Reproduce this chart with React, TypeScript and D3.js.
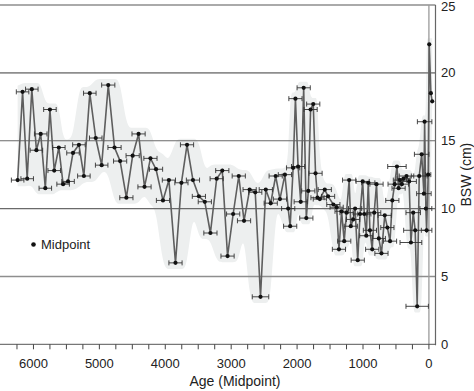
import React from 'react';
import * as d3 from 'd3';

// midpoint ages (yr), oldest first
const ages = [
  6240, 6165, 6095, 6025, 5955, 5890, 5820, 5750, 5685, 5615,
  5550, 5475, 5400, 5310, 5235, 5145, 5055, 4965, 4865, 4770,
  4685, 4590, 4495, 4405, 4315, 4225, 4140, 4035, 3945, 3845,
  3755, 3670, 3580, 3490, 3400, 3315, 3220, 3135, 3055, 2970,
  2885, 2805, 2720, 2635, 2555, 2475, 2400, 2325, 2260, 2185,
  2135, 2105, 2060, 2025, 1985, 1945, 1900, 1860, 1830, 1795,
  1755, 1720, 1690, 1655, 1580, 1530, 1450, 1400, 1365, 1325,
  1285, 1250, 1210, 1185, 1150, 1120, 1080, 1045, 1005, 980,
  950, 920, 895, 860, 830, 795, 760, 720, 670, 630,
  590, 555, 520, 485, 460, 440, 410, 385, 340, 300,
  273, 238, 208, 178, 147, 110, 76, 65, 46, 35,
  11, -5, -30, -50,
];

// BSW (cm)
const bsw = [
  12.1, 18.6, 12.2, 18.8, 14.3, 15.5, 11.5, 17.3, 12.8, 14.5,
  11.8, 12.0, 14.1, 14.7, 12.4, 18.5, 15.2, 13.2, 19.1, 14.5,
  13.5, 10.8, 13.9, 15.5, 11.6, 13.7, 12.9, 10.6, 12.1, 6.0,
  11.9, 14.7, 12.1, 10.9, 10.5, 8.2, 12.2, 12.8, 6.5, 9.6,
  12.4, 9.1, 11.4, 11.2, 3.5, 11.4, 10.4, 12.4, 10.7, 12.5,
  10.0, 8.7, 13.0, 18.1, 13.1, 10.5, 18.9, 9.3, 11.3, 17.3,
  17.7, 12.6, 10.8, 10.7, 11.4, 10.9, 10.3, 10.1, 7.0, 9.8,
  7.6, 9.7, 12.1, 8.7, 9.2, 10.0, 6.2, 9.6, 12.0, 9.6,
  8.0, 11.9, 8.4, 7.0, 9.7, 11.8, 7.8, 6.7, 9.5, 8.6,
  7.6, 10.6, 11.8, 13.1, 11.5, 12.1, 11.8, 12.2, 12.4, 12.0,
  7.5, 9.7, 8.4, 2.8, 12.4, 14.0, 11.1, 16.4, 10.0, 8.4,
  12.5, 22.1, 18.5, 17.9,
];

// half-width of the age error bars (yr)
const ageErr = [
  95, 95, 95, 95, 95, 95, 95, 95, 95, 95,
  95, 95, 95, 95, 95, 95, 95, 95, 100, 100,
  100, 100, 100, 100, 100, 100, 100, 100, 100, 100,
  100, 100, 100, 100, 100, 100, 100, 100, 100, 100,
  100, 100, 100, 100, 125, 100, 100, 100, 100, 100,
  100, 100, 100, 100, 100, 100, 100, 100, 100, 100,
  100, 100, 100, 100, 100, 100, 100, 100, 100, 100,
  100, 100, 100, 100, 100, 100, 100, 100, 100, 100,
  100, 100, 100, 100, 100, 100, 100, 100, 100, 100,
  100, 100, 100, 140, 100, 100, 100, 100, 110, 110,
  165, 110, 175, 170, 120, 110, 110, 110, 90, 80,
  40, 0, 0, 0,
];

const xTicks = [6000, 5000, 4000, 3000, 2000, 1000, 0];
const xMinorTicks = d3.range(6250, -1, -250);
const yTicks = [0, 5, 10, 15, 20, 25];

const FONT = '"Liberation Sans", Arial, sans-serif';

const App = () => {
  const width = 474;
  const height = 391;
  const x = d3.scaleLinear().domain([6500, -100]).range([0.5, 435.5]);
  const y = d3.scaleLinear().domain([0, 25]).range([344.3, 5]);
  const right = x(-100);
  const bottom = y(0);

  const pts = ages.map((a, i) => ({ a, v: bsw[i], e: ageErr[i] }));

  // shaded envelope around the series (local min / max, smoothed)
  const band = pts.map((p, i) => {
    const win = pts.slice(Math.max(0, i - 2), i + 3).map(d => d.v);
    return { a: p.a, lo: d3.min(win) - 0.45, hi: Math.min(25, d3.max(win) + 0.45) };
  });
  const bandPath = d3.area()
    .x(d => x(d.a))
    .y0(d => y(d.lo))
    .y1(d => y(d.hi))
    .curve(d3.curveBasis)(band);

  const linePath = d3.line()
    .x(d => x(d.a))
    .y(d => y(d.v))(pts);

  return (
    <svg
      width={width}
      height={height}
      style={{ position: 'absolute', left: 0, top: 0, background: '#fff' }}
    >
      <defs>
        <clipPath id="plot">
          <rect x={0} y={y(25)} width={right} height={bottom - y(25)} />
        </clipPath>
      </defs>
      <path d={bandPath} fill="#edefef" clipPath="url(#plot)" />
      {yTicks.filter(t => t > 0).map(t => (
        <line
          key={t}
          x1={0}
          x2={right}
          y1={y(t)}
          y2={y(t)}
          stroke={t === 10 || t === 15 ? '#6a6a6a' : '#8e8e8e'}
          strokeWidth={t === 10 || t === 15 ? 1.1 : 1.6}
        />
      ))}
      <line x1={x(0)} x2={x(0)} y1={y(25)} y2={bottom} stroke="#9a9a9a" strokeWidth={1.3} />
      <line x1={right} x2={right} y1={y(25)} y2={bottom + 1} stroke="#666" strokeWidth={1.2} />
      <line x1={0} x2={right} y1={bottom} y2={bottom} stroke="#555" strokeWidth={1} />
      {xMinorTicks.map(t => (
        <line key={t} x1={x(t)} x2={x(t)} y1={bottom} y2={bottom + 5} stroke="#444" strokeWidth={1} />
      ))}
      {xTicks.map(t => (
        <text
          key={t}
          x={x(t)}
          y={368}
          textAnchor="middle"
          fontFamily={FONT}
          fontSize={13}
          fill="#222"
        >
          {t}
        </text>
      ))}
      {yTicks.map(t => (
        <text
          key={t}
          x={441}
          y={Math.max(y(t) + 4.6, 11)}
          fontFamily={FONT}
          fontSize={13}
          fill="#222"
        >
          {t}
        </text>
      ))}
      <text x={235} y={386} textAnchor="middle" fontFamily={FONT} fontSize={14} fill="#222">
        Age (Midpoint)
      </text>
      <text
        transform={`translate(471,${y(12.5)}) rotate(-90)`}
        textAnchor="middle"
        fontFamily={FONT}
        fontSize={14}
        fill="#222"
      >
        BSW (cm)
      </text>
      <path d={linePath} fill="none" stroke="#5e5e5e" strokeWidth={1.6} />
      {pts.filter(p => p.e > 0).map((p, i) => (
        <g key={i} stroke="#333" strokeWidth={0.9}>
          <line x1={x(p.a + p.e)} x2={x(p.a - p.e)} y1={y(p.v)} y2={y(p.v)} />
          <line x1={x(p.a + p.e)} x2={x(p.a + p.e)} y1={y(p.v) - 2.5} y2={y(p.v) + 2.5} />
          <line x1={x(p.a - p.e)} x2={x(p.a - p.e)} y1={y(p.v) - 2.5} y2={y(p.v) + 2.5} />
        </g>
      ))}
      {pts.map((p, i) => (
        <circle key={i} cx={x(p.a)} cy={y(p.v)} r={2.1} fill="#111" />
      ))}
      <circle cx={33.5} cy={244.5} r={2.3} fill="#111" />
      <text x={41} y={249} fontFamily={FONT} fontSize={13} fill="#222">
        Midpoint
      </text>
    </svg>
  );
};

export default App;
